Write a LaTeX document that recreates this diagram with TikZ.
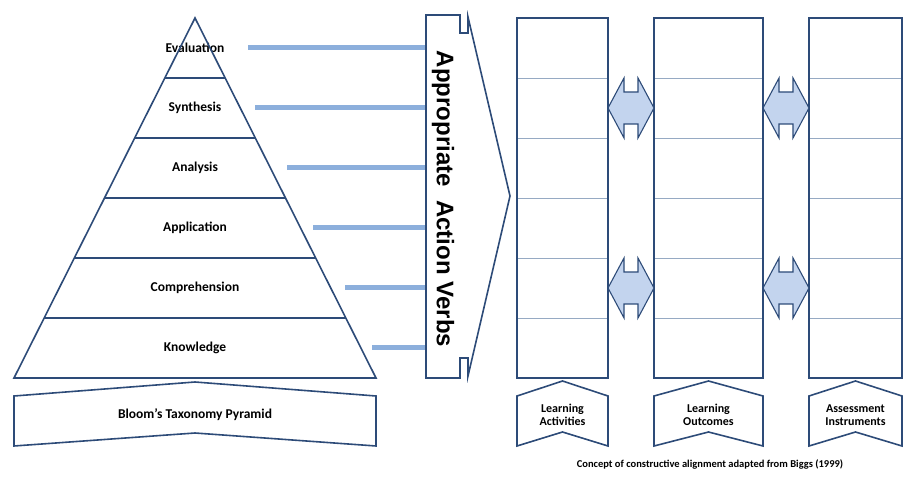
\documentclass[tikz,border=0pt]{standalone}
\usepackage{fontspec}
\setmainfont{Carlito}
\newfontfamily\arialish{Liberation Sans}
\definecolor{edgec}{RGB}{45,75,120}
\definecolor{thinc}{RGB}{150,170,195}
\definecolor{verbc}{RGB}{140,175,220}
\definecolor{fillc}{RGB}{195,212,238}
\begin{document}
\begin{tikzpicture}[x=1pt,y=-1pt,
  edge/.style={draw=edgec, line width=1.6pt, line join=miter},
  thin/.style={draw=thinc, line width=0.8pt},
  verb/.style={draw=verbc, line width=5pt},
  lab/.style={font=\bfseries\fontsize{13.5}{15}\selectfont},
  small/.style={font=\bfseries\fontsize{12}{13}\selectfont, align=center},
  dbl/.style={edge, line width=1.1pt, fill=fillc}]
\useasboundingbox (0,0) rectangle (910,502);
% pyramid
\foreach \y/\s/\t in {48/248/Evaluation,108/255/Synthesis,168/287/Analysis,228/313/Application,288/345/Comprehension,348/372/Knowledge}{
  \draw[verb] (\s,\y) -- (426,\y);
  \node[lab] at (195,\y) {\t};
}
\foreach \y in {78,138,198,258,318}{
  \pgfmathsetmacro\hw{(\y-18)/360*181}
  \draw[edge] ({195-\hw},\y) -- ({195+\hw},\y);
}
\draw[edge] (195,18) -- (14,378) -- (376,378) -- cycle;
\draw[edge] (14,396) -- (195,382) -- (376,396) -- (376,446) -- (195,433) -- (14,446) -- cycle;
\node[lab] (bloom) at (195,415) {Bloom’s Taxonomy Pyramid};
% action verbs
\draw[edge, fill=white] (426,15) -- (460,15) -- (460,33) -- (468,33) -- (468,17) -- (510,196) -- (468,376) -- (468,358) -- (460,358) -- (460,378) -- (426,378) -- cycle;
\node[rotate=-90, font=\arialish\bfseries\fontsize{24}{26}\selectfont] (verbs) at (443,199) {Appropriate\ \ Action Verbs};
% columns
\foreach \a/\b/\t in {517/608/{Learning\\Activities},654/763/{Learning\\Outcomes},809/902/{Assessment\\Instruments}}{
  \foreach \y in {78,138,198,258,318} \draw[thin] (\a,\y) -- (\b,\y);
  \draw[edge] (\a,18) rectangle (\b,378);
  \draw[edge] (\a,396) -- ({(\a+\b)/2},381) -- (\b,396) -- (\b,446) -- ({(\a+\b)/2},432) -- (\a,446) -- cycle;
  \node[small] at ({(\a+\b)/2},415) {\t};
}
% double arrows
\foreach \a/\b in {608/654,763/809}{
  \foreach \y in {108,288}{
    \draw[dbl] (\a,\y) -- (\a+16,\y-30) -- (\a+16,\y-16) -- (\b-16,\y-16) -- (\b-16,\y-30) -- (\b,\y)
      -- (\b-16,\y+30) -- (\b-16,\y+16) -- (\a+16,\y+16) -- (\a+16,\y+30) -- cycle;
  }
}
\node[font=\bfseries\fontsize{10.5}{11}\selectfont] (cap) at (710,464) {Concept of constructive alignment adapted from Biggs (1999)};
\end{tikzpicture}
\end{document}
